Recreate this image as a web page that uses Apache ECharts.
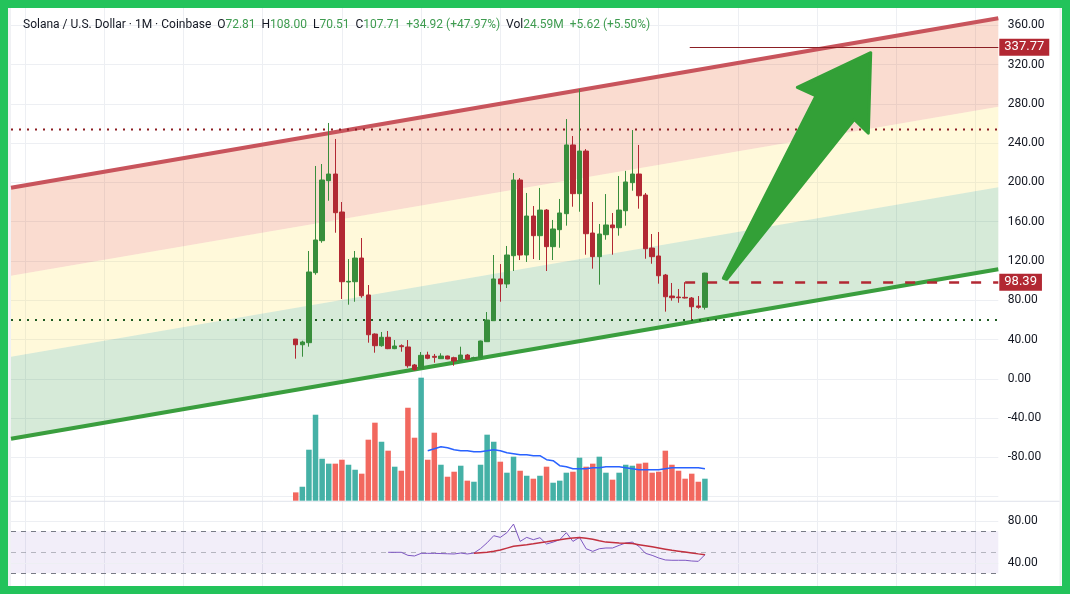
<!DOCTYPE html>
<html><head><meta charset="utf-8">
<script src="https://cdn.jsdelivr.net/npm/echarts@6/dist/echarts.min.js"></script>
<style>
html,body{margin:0;padding:0;background:#fff;}
#wrap{position:relative;width:1070px;height:594px;overflow:hidden;}
#chart{position:absolute;left:0;top:0;width:1070px;height:594px;}
#frame{position:absolute;left:0;top:0;width:1070px;height:594px;box-sizing:border-box;border:8px solid #23C35B;pointer-events:none;}
</style></head><body>
<div id="wrap"><div id="chart"></div><div id="frame"></div></div>
<script>
// ---- data (monthly candles, index 0 = first candle) ----
const opens  = [40.5,34.7,36.8,108.1,140.7,201.8,208.6,169.9,98.6,98.9,123.0,85.4,45.6,33.7,42.3,30.7,33.7,32.4,14.1,10.3,24.2,22.9,20.5,23.2,21.5,18.1,24.2,20.5,21.5,37.8,59.2,101.7,96.6,125.4,202.5,126.1,165.8,145.8,171.9,134.6,151.9,168.2,238.2,188.6,232.0,148.5,124.4,146.8,156.7,153.9,171.2,199.8,208.6,187.2,133.2,125.1,105.7,84.3,83.3,83.0,82.3,74.2,72.81];
const closes = [34.7,37.5,108.8,141.4,202.5,208.6,169.2,98.9,99.3,123.0,84.6,44.9,33.7,42.3,30.7,33.4,32.7,13.3,9.3,23.9,20.9,21.9,23.2,20.2,18.1,24.2,19.9,21.5,38.5,59.9,101.7,96.6,126.1,202.5,126.1,165.8,145.8,171.9,134.6,152.6,168.9,238.2,188.6,232.0,147.8,124.4,147.5,156.7,153.9,171.9,200.5,208.6,186.5,132.5,124.4,105.0,83.6,82.6,82.6,82.3,73.4,72.81,107.71];
const lows   = [20.5,22.5,32.7,106.0,138.6,181.4,148.8,81.3,75.5,78.5,82.6,36.8,26.6,32.7,30.2,30.2,27.6,11.3,8.3,10.0,19.9,16.4,20.2,19.9,13.3,17.8,19.2,19.9,21.2,37.5,58.9,78.5,92.5,109.8,121.0,119.0,122.0,121.0,109.8,121.0,133.5,156.0,175.3,170.2,126.4,112.2,95.9,141.7,126.4,145.8,156.0,191.6,173.3,122.3,117.2,96.9,68.4,79.6,77.5,81.8,60.2,71.4,70.51];
const highs  = [40.5,38.8,130.2,216.8,218.8,260.6,244.3,180.1,122.0,130.2,143.4,95.5,46.3,47.7,48.7,39.5,35.1,39.5,15.1,27.3,27.6,25.3,26.0,23.6,22.5,32.7,25.3,22.5,38.9,68.0,126.1,116.9,135.3,209.6,204.5,189.3,176.0,194.4,172.9,161.8,183.2,264.6,247.3,295.2,234.0,180.1,157.7,188.2,168.9,206.6,211.8,253.4,238.2,189.3,147.5,149.5,106.8,97.6,91.5,98.39,83.3,84.3,108.00];
const volumes = [9.3,15.6,57.0,96.1,46.9,41.4,41.4,45.8,40.2,34.6,30.2,68.2,87.2,65.9,55.9,38.0,33.5,103.9,70.4,137.5,45.8,76.0,40.2,26.8,32.4,39.1,22.4,21.2,40.2,73.8,65.9,43.6,31.3,49.2,33.5,27.9,24.6,27.9,38.0,20.1,22.4,31.3,32.4,48.1,38.0,41.4,49.2,31.3,23.5,31.3,40.2,39.1,41.4,42.5,31.3,32.4,55.9,40.2,33.5,24.6,30.2,21.2,24.59];
const volMAStart = 20;
const volumeMA = [55.9,58.1,60.4,59.2,57.0,55.9,55.9,54.8,54.8,55.9,57.0,55.9,53.6,52.5,51.4,51.4,50.3,50.3,45.8,44.7,39.1,38.0,35.8,35.8,35.8,36.9,36.9,38.0,38.0,38.0,36.9,35.8,34.6,34.6,34.6,34.6,35.8,36.9,36.9,36.9,36.9,36.9,35.8];
const rsiStart = 14;
const rsi = [50.0,50.0,50.0,47.1,46.5,49.0,49.0,49.0,48.8,48.6,48.4,49.3,48.4,49.3,53.5,59.1,65.8,64.2,68.7,76.9,60.4,64.2,62.0,63.9,57.9,59.7,62.0,68.7,60.4,64.2,53.4,50.9,53.4,54.1,54.1,56.6,58.9,59.7,55.7,49.0,47.1,44.6,42.7,42.4,42.4,42.4,41.7,41.4,47.7];
const rsiMAStart = 27;
const rsiMA = [49.0,49.5,50.0,51.1,52.2,54.0,55.7,56.5,57.3,58.2,59.2,60.1,61.1,62.0,63.0,63.6,64.2,63.3,62.4,61.0,59.7,59.3,58.9,58.6,58.3,57.3,56.3,55.2,54.1,53.0,51.9,51.1,50.3,49.4,48.5,47.7];
// channel (parallel lines) endpoints at chart left / right edge
const XMIN = -43.14, XMAX = 106.45;
const channelX = [XMIN, XMAX];
const redLine = [194.7, 367.2];
const pinkYellow = [105.0, 277.2];
const yellowGreen = [22.5, 195.1];
const greenLine = [-61.0, 111.5];
const dottedRed = 254, dottedGreen = 60;
const levelValues = [337.77, 98.39];
const levelStarts = [59.7, 59];
const yearLines = [-41,-29,-17,-5,7,19,31,43,55,67,79,91,103];
const arrowX = [64.79,78.83,76.0,87.12,86.76,84.64,65.3];
const arrowY = [102.4,288.1,296.9,332.2,250.1,264.3,101.4];
const priceMin = -120, priceMax = 360, priceStep = 40;

const UP = '#388E3C', DN = '#B22833', UPV = '#45B1A6', DNV = '#F2685F';
const FONT = 'Roboto, "Liberation Sans", sans-serif';

const candles = opens.map((o, i) => [i, o, closes[i], lows[i], highs[i]]);
const chart = echarts.init(document.getElementById('chart'), null, {renderer: 'canvas'});

function bandSeries(top, bottom, color) {
  return {
    type: 'custom', xAxisIndex: 0, yAxisIndex: 0, z: 1, silent: true, clip: false,
    data: [0],
    renderItem: (params, api) => {
      const pts = [
        api.coord([channelX[0], top[0]]), api.coord([channelX[1], top[1]]),
        api.coord([channelX[1], bottom[1]]), api.coord([channelX[0], bottom[0]])
      ];
      return {type: 'polygon', shape: {points: pts}, style: {fill: color}};
    }
  };
}
const xAx = g => ({type: 'value', gridIndex: g, min: XMIN, max: XMAX, show: false});
const G = {left: 11, right: 71.7};

const option = {
  backgroundColor: '#ffffff',
  animation: false,
  title: {
    left: 18, top: 14,
    text: '{n|Solana / U.S. Dollar · 1M · Coinbase}  {n|O}{g|72.81}  {n|H}{g|108.00}  {n|L}{g|70.51}  {n|C}{g|107.71}  {g|+34.92 (+47.97%)}  {n|Vol}{g|24.59M}  {g|+5.62 (+5.50%)}',
    textStyle: {fontFamily: FONT, fontSize: 12, fontWeight: 'normal',
      rich: {n: {color: '#131722', fontSize: 12, fontFamily: FONT}, g: {color: '#3E9B4F', fontSize: 12, fontFamily: FONT}}}
  },
  grid: [
    Object.assign({top: 25.4, height: 471.2}, G),
    Object.assign({top: 370.7, height: 130}, G),
    Object.assign({top: 499.8, height: 84}, G),
    Object.assign({top: 8, bottom: 8}, G)
  ],
  xAxis: [xAx(0), xAx(1), xAx(2), xAx(3)],
  yAxis: [
    {type: 'value', gridIndex: 0, position: 'right', min: priceMin, max: priceMax, interval: priceStep,
      axisLine: {show: false}, axisTick: {show: false},
      axisLabel: {formatter: v => v.toFixed(2), color: '#131722', fontSize: 12, fontFamily: FONT, margin: 9.4, showMinLabel: false},
      splitLine: {lineStyle: {color: '#EDEFF3', width: 1}}},
    {type: 'value', gridIndex: 1, min: 0, max: 145.3, show: false},
    {type: 'value', gridIndex: 2, position: 'right', min: 20, max: 100, interval: 20,
      axisLine: {show: false}, axisTick: {show: false}, splitLine: {show: false},
      axisLabel: {formatter: v => (v === 40 || v === 80) ? v.toFixed(2) : '', color: '#131722', fontSize: 12, fontFamily: FONT, margin: 9.4}},
    {type: 'value', gridIndex: 3, min: 0, max: 1, show: false}
  ],
  graphic: [
    {type: 'line', shape: {x1: 11, y1: 501.3, x2: 1060, y2: 501.3}, style: {stroke: '#E0E3EB', lineWidth: 1}, z: 3},
    {type: 'rect', shape: {x: 8, y: 8, width: 3, height: 578}, style: {fill: '#F0F1F4'}, z: 3},
    {type: 'rect', shape: {x: 1059.5, y: 8, width: 2, height: 578}, style: {fill: '#F0F1F4'}, z: 3}
  ],
  series: [
    {type: 'line', xAxisIndex: 3, yAxisIndex: 3, data: [], silent: true,
      markLine: {z: 0, silent: true, symbol: ['none', 'none'], label: {show: false},
        lineStyle: {color: '#EDEFF3', width: 1, type: 'solid'},
        data: yearLines.map(v => ({xAxis: v}))}},
    bandSeries(redLine, pinkYellow, 'rgba(230,80,20,0.2)'),
    bandSeries(pinkYellow, yellowGreen, 'rgba(255,225,70,0.2)'),
    bandSeries(yellowGreen, greenLine, 'rgba(50,150,60,0.2)'),
    {type: 'line', xAxisIndex: 0, yAxisIndex: 0, clip: false, silent: true, symbol: 'none', z: 4,
      data: channelX.map((x, k) => [x, redLine[k]]), lineStyle: {color: '#C8545C', width: 4}},
    {type: 'line', xAxisIndex: 0, yAxisIndex: 0, clip: false, silent: true, symbol: 'none', z: 4,
      data: channelX.map((x, k) => [x, greenLine[k]]), lineStyle: {color: '#3A9E3E', width: 4}},
    {type: 'line', xAxisIndex: 0, yAxisIndex: 0, silent: true, symbol: 'none', z: 4,
      data: channelX.map(x => [x, dottedRed]), lineStyle: {color: '#8B1C21', width: 2, type: [2, 6]}},
    {type: 'line', xAxisIndex: 0, yAxisIndex: 0, silent: true, symbol: 'none', z: 4,
      data: channelX.map(x => [x, dottedGreen]), lineStyle: {color: '#1E5A22', width: 2, type: [2, 6]}},
    {type: 'bar', xAxisIndex: 1, yAxisIndex: 1, barWidth: 5.5, z: 4, silent: true,
      data: volumes.map((v, i) => ({value: [i, v], itemStyle: {color: closes[i] >= opens[i] ? UPV : DNV}}))},
    {type: 'line', xAxisIndex: 1, yAxisIndex: 1, symbol: 'none', z: 5, silent: true,
      data: volumeMA.map((v, k) => [volMAStart + k, v]), lineStyle: {color: '#2962FF', width: 1.5}},
    {type: 'candlestick', xAxisIndex: 0, yAxisIndex: 0, z: 6, silent: true,
      data: candles, encode: {x: 0, y: [1, 2, 3, 4]}, barWidth: 5,
      itemStyle: {color: UP, color0: DN, borderColor: UP, borderColor0: DN, borderWidth: 1},
      markLine: {z: 7, silent: true, symbol: ['none', 'none'],
        data: levelValues.map((v, k) => [
          {coord: [levelStarts[k], v],
            lineStyle: k === 0 ? {color: '#8B1F24', width: 1, type: 'solid'} : {color: '#B22833', width: 2.5, type: [10, 12]},
            label: {show: true, position: 'end', distance: 1, formatter: v.toFixed(2), color: '#fff',
              backgroundColor: '#B22833', padding: [2, 5, 2, 5], fontSize: 13, fontFamily: FONT, lineHeight: 13}},
          {coord: [XMAX, v]}
        ])}},
    {type: 'custom', xAxisIndex: 0, yAxisIndex: 0, z: 8, silent: true, clip: false, data: [0],
      renderItem: (params, api) => {
        const pts = arrowX.map((x, k) => api.coord([x, arrowY[k]]));
        return {type: 'polygon', shape: {points: pts}, style: {fill: '#33A037', stroke: '#33A037', lineWidth: 3, lineJoin: 'round'}};
      }},
    {type: 'line', xAxisIndex: 2, yAxisIndex: 2, symbol: 'none', z: 5, silent: true,
      data: rsi.map((v, k) => [rsiStart + k, v]), lineStyle: {color: '#7E57C2', width: 1},
      markArea: {silent: true, itemStyle: {color: 'rgba(126,87,194,0.1)'}, data: [[{yAxis: 30}, {yAxis: 70}]]},
      markLine: {silent: true, symbol: ['none', 'none'], label: {show: false}, z: 3,
        data: [
          {yAxis: 80, lineStyle: {color: '#EDEFF3', type: 'solid', width: 1}},
          {yAxis: 40, lineStyle: {color: '#EDEFF3', type: 'solid', width: 1}},
          {yAxis: 70, lineStyle: {color: '#787B86', type: [5, 5], width: 1}},
          {yAxis: 50, lineStyle: {color: 'rgba(120,123,134,0.5)', type: [5, 5], width: 1}},
          {yAxis: 30, lineStyle: {color: '#787B86', type: [5, 5], width: 1}}
        ]}},
    {type: 'line', xAxisIndex: 2, yAxisIndex: 2, symbol: 'none', z: 5, silent: true,
      data: rsiMA.map((v, k) => [rsiMAStart + k, v]), lineStyle: {color: '#C2303F', width: 1.5}}
  ]
};
chart.setOption(option);
</script>
</body></html>
